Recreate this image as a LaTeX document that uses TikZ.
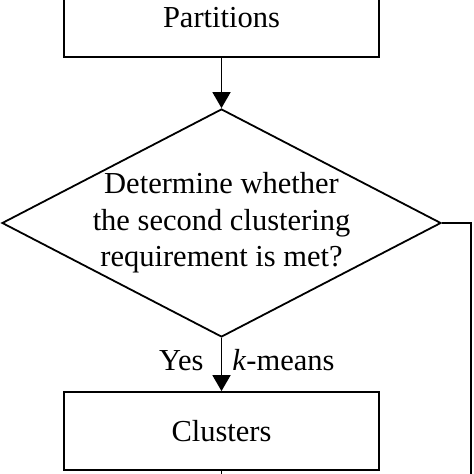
\documentclass[tikz,border=0pt]{standalone}
\usepackage{fontspec}
\setmainfont{Liberation Serif}
\usetikzlibrary{shapes.geometric,arrows.meta}
\begin{document}
\begin{tikzpicture}[x=1pt,y=1pt,
  every node/.style={font=\fontsize{30.5}{36.5}\selectfont},
  boxnode/.style={draw,line width=1.8pt,minimum width=315pt,minimum height=78pt,inner sep=0pt},
  decision/.style={draw,diamond,line width=1.8pt,minimum width=439pt,minimum height=228pt,inner sep=0pt},
  conn/.style={line width=1.8pt},
  arr/.style={conn,-{Triangle[length=16pt,width=18pt]}}]
\useasboundingbox (0,0) rectangle (474,474);
\clip (0,0) rectangle (474,474);
\node[boxnode] (p) at (221.5,456) {Partitions};
\node[decision] (d) at (221.5,251) {};
\node[align=center,inner sep=0pt] (dt) at (221.5,251) {Determine whether\\the second clustering\\requirement is met?};
\node[boxnode] (c) at (221.5,43) {Clusters};
\coordinate (r1) at (471,251);
\coordinate (r2) at (471,-10);
\coordinate (cb) at (221.5,-10);
\draw[arr] (p.south) -- (d.north);
\draw[arr] (d.south) -- (c.north) node[pos=0.42,left=17pt,inner sep=0pt] (yes) {Yes} node[pos=0.42,right=10pt,inner sep=0pt] (km) {\textit{k}-means};
\draw[conn] (d.east) -- (r1) -- (r2);
\draw[conn] (c.south) -- (cb);
\end{tikzpicture}
\end{document}
